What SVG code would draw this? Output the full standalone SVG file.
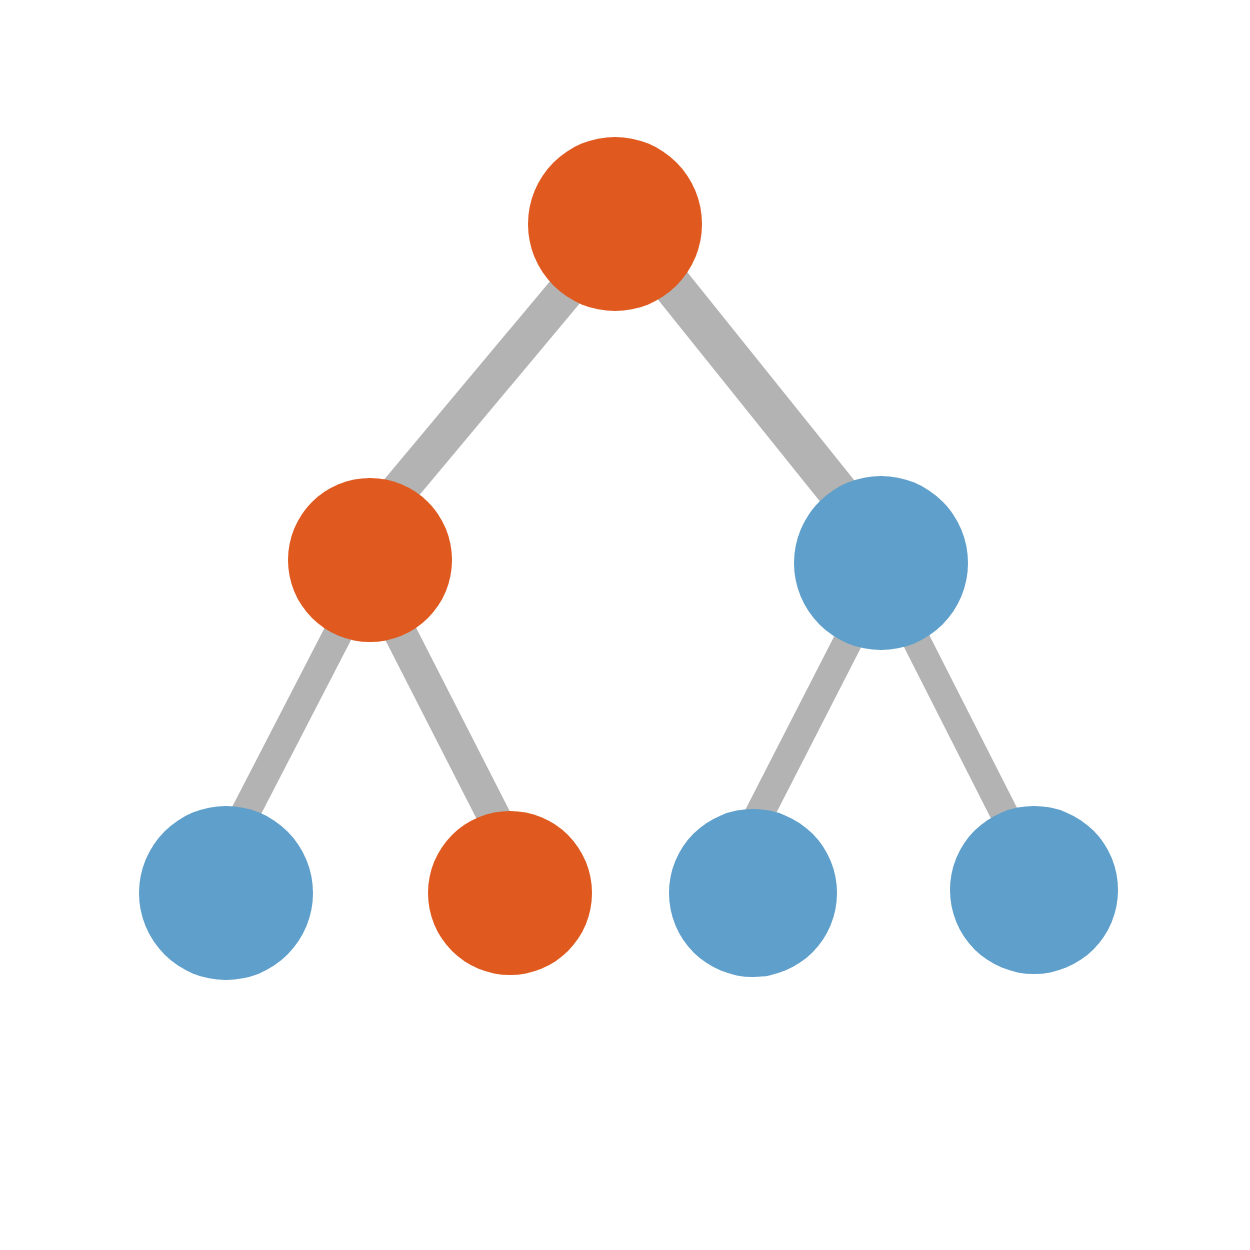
<svg xmlns="http://www.w3.org/2000/svg" width="1250" height="1250" viewBox="0 0 1250 1250">
<style>
.e{stroke:#b3b3b3;stroke-linecap:butt;fill:none}
.o{fill:#e05a1f}
.b{fill:#5f9fcb}
</style>
<rect width="1250" height="1250" fill="#fff"/>
<g id="connectors">
<line class="e" x1="622" y1="224" x2="341" y2="560" stroke-width="37"/>
<line class="e" x1="623" y1="224" x2="895" y2="563" stroke-width="40"/>
<line class="e" x1="376" y1="560" x2="204" y2="893" stroke-width="29"/>
<line class="e" x1="363" y1="560" x2="533" y2="893" stroke-width="33"/>
<line class="e" x1="888" y1="563" x2="719" y2="893" stroke-width="29"/>
<line class="e" x1="877" y1="563" x2="1043" y2="890" stroke-width="28"/>
</g>
<g id="n1"><circle class="o" cx="615" cy="224" r="87"/></g>
<g id="n2"><circle class="o" cx="370" cy="560" r="82"/></g>
<g id="n3"><circle class="b" cx="881" cy="563" r="87"/></g>
<g id="n4"><circle class="b" cx="226" cy="893" r="87"/></g>
<g id="n5"><circle class="o" cx="510" cy="893" r="82"/></g>
<g id="n6"><circle class="b" cx="753" cy="893" r="84"/></g>
<g id="n7"><circle class="b" cx="1034" cy="890" r="84"/></g>
</svg>
